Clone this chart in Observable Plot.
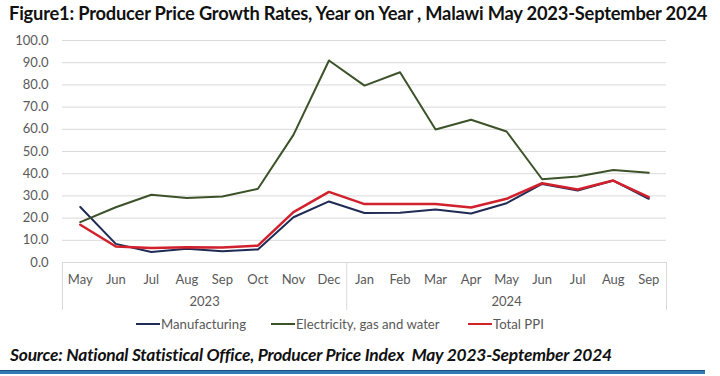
<!DOCTYPE html>
<html>
<head>
<meta charset="utf-8">
<script src="https://cdn.jsdelivr.net/npm/d3@7"></script>
<script src="https://cdn.jsdelivr.net/npm/@observablehq/plot@0.6"></script>
<style>
  html, body { margin: 0; padding: 0; background: #fff; }
  body { width: 720px; height: 376px; position: relative; overflow: hidden; font-family: Lato, "Open Sans", sans-serif; }
  #title { position: absolute; left: 9px; top: 2px; font-weight: 700; font-size: 18.3px; color: #111; white-space: nowrap; letter-spacing: -0.2px; }
  #chart { position: absolute; left: 0; top: 28px; }
  #legend { position: absolute; left: 0; top: 316px; width: 720px; height: 18px; font-size: 13.2px; color: #595959; }
  .item { position: absolute; top: 0; display: flex; align-items: center; white-space: nowrap; }
  .sw { width: 24px; height: 2.5px; margin-right: 1px; }
  #source { position: absolute; left: 10px; top: 344px; font-weight: 700; font-style: italic; font-size: 17.4px; color: #111; white-space: nowrap; letter-spacing: -0.2px; }
  #rule { position: absolute; left: 0; top: 370px; width: 705px; height: 3px; background: #2f7bb5; border-top: 1px solid #1d4f7a; }
</style>
</head>
<body>
<div id="title">Figure1: Producer Price Growth Rates, Year on Year , Malawi May 2023-September 2024</div>
<div id="chart"></div>
<div id="legend"></div>
<div id="source">Source: National Statistical Office, Producer Price Index&nbsp; May 2023-September 2024</div>
<div id="rule"></div>
<script>
const months = ["May","Jun","Jul","Aug","Sep","Oct","Nov","Dec","Jan","Feb","Mar","Apr","May","Jun","Jul","Aug","Sep"];
const years = ["2023","2024"];
const yearSpans = [[0, 7], [8, 16]];
const yTicks = [0,10,20,30,40,50,60,70,80,90,100];

const seriesNames = ["Manufacturing", "Electricity, gas and water", "Total PPI"];
const seriesColors = ["#1f2b55", "#3c5229", "#d0212d"];
const seriesWidths = [2, 2, 2.5];

const manufacturing = [25.0, 8.4, 4.7, 6.2, 5.1, 5.9, 20.4, 27.5, 22.3, 22.4, 23.9, 22.1, 26.7, 35.4, 32.4, 36.9, 28.7];
const electricity   = [18.2, 24.9, 30.5, 29.0, 29.7, 33.2, 57.5, 91.0, 79.7, 85.7, 59.9, 64.3, 59.0, 37.5, 38.7, 41.7, 40.4];
const totalPPI      = [17.0, 7.2, 6.5, 6.9, 6.8, 7.6, 22.7, 31.8, 26.3, 26.4, 26.4, 24.8, 28.7, 35.7, 32.9, 36.9, 29.4];

const allSeries = [manufacturing, electricity, totalPPI];
const rows = allSeries.flatMap((vals, s) => vals.map((v, i) => ({i, v, s: seriesNames[s]})));

const n = months.length;
const belowAxis = -21.6; // extent of category box below zero line, in y units

const lineMarks = seriesNames.map((name, s) =>
  Plot.line(rows.filter(d => d.s === name), {x: "i", y: "v", stroke: seriesColors[s], strokeWidth: seriesWidths[s], strokeLinejoin: "round"})
);

const boundaries = [-0.5, ...yearSpans.slice(0, -1).map(sp => sp[1] + 0.5), n - 0.5];

const chart = Plot.plot({
  width: 720,
  height: 286,
  marginLeft: 62,
  marginRight: 54,
  marginTop: 12,
  marginBottom: 52,
  style: {fontFamily: "Lato, 'Open Sans', sans-serif", fontSize: "13px", color: "#595959", overflow: "visible"},
  x: {type: "linear", domain: [-0.5, n - 0.5], axis: null},
  y: {domain: [0, 100], axis: null},
  marks: [
    Plot.ruleY(yTicks.filter(t => t > 0), {stroke: "#d9d9d9", strokeWidth: 1}),
    Plot.ruleY([0], {stroke: "#d9d9d9", strokeWidth: 1}),
    Plot.ruleX(boundaries, {y1: 0, y2: belowAxis, stroke: "#d9d9d9", strokeWidth: 1}),
    Plot.text(yTicks, {x: -0.5, y: d => d, text: d => d.toFixed(1), textAnchor: "end", dx: -14, fill: "#595959", fontSize: 13}),
    Plot.text(months, {x: (d, i) => i, y: 0, text: d => d, dy: 17, fill: "#595959", fontSize: 13}),
    Plot.text(years, {x: (d, k) => (yearSpans[k][0] + yearSpans[k][1]) / 2, y: 0, text: d => d, dy: 39, fill: "#595959", fontSize: 13}),
    ...lineMarks
  ]
});
document.getElementById("chart").appendChild(chart);

const legend = document.getElementById("legend");
const legendX = [136, 271, 468];
seriesNames.forEach((name, s) => {
  const it = document.createElement("div");
  it.className = "item";
  it.style.left = legendX[s] + "px";
  it.innerHTML = `<span class="sw" style="background:${seriesColors[s]}"></span><span>${name}</span>`;
  legend.appendChild(it);
});
</script>
</body>
</html>
